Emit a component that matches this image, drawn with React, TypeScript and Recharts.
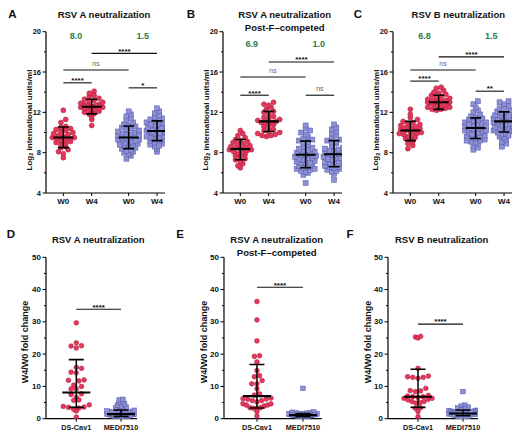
import React from 'react';
import { ScatterChart, Scatter, XAxis, YAxis, ReferenceLine, ReferenceDot } from 'recharts';

const FONT = '"Liberation Sans", Arial, Helvetica, sans-serif';
const RED = '#e5375b';
const RED_EDGE = '#a51d3b';
const BLUE = '#8d90d4';
const BLUE_EDGE = '#5558a9';
const GREEN = '#2e7b4d';

// ---------- tick labels / categories ----------
const topPositions = [1, 2, 3.3, 4.3];
const topLabels = ['W0', 'W4', 'W0', 'W4'];
const topKinds = ['red', 'red', 'blue', 'blue'];
const topYTicks = [4, 8, 12, 16, 20];
const topYMinor = [6, 10, 14, 18];
const botPositions = [1, 2];
const botLabels = ['DS-Cav1', 'MEDI7510'];
const botKinds = ['red', 'blue'];
const botYTicks = [0, 10, 20, 30, 40, 50];
const botYMinor = [5, 15, 25, 35, 45];

// ---------- Panel A: RSV A neutralization (log2 IU/ml) ----------
const aDsW0 = [7.5, 7.9, 8.1, 8.3, 8.5, 8.6, 8.8, 8.9, 9.0, 9.1, 9.2, 9.3, 9.4, 9.4, 9.5, 9.5, 9.6, 9.7, 9.8, 9.9, 10.0, 10.1, 10.2, 10.3, 10.4, 10.5, 10.6, 11.0, 11.3, 12.2];
const aDsW4 = [10.7, 11.3, 11.6, 11.8, 11.9, 12.0, 12.1, 12.2, 12.3, 12.3, 12.4, 12.5, 12.5, 12.6, 12.6, 12.7, 12.8, 12.8, 12.9, 13.0, 13.1, 13.2, 13.3, 13.4, 13.6, 13.7, 13.9, 14.1, 12.4, 12.7];
const aMeW0 = [7.4, 7.7, 7.9, 8.0, 8.1, 8.2, 8.3, 8.4, 8.5, 8.6, 8.7, 8.8, 8.9, 9.0, 9.0, 9.1, 9.2, 9.3, 9.3, 9.4, 9.5, 9.5, 9.6, 9.7, 9.8, 9.8, 9.9, 10.0, 10.1, 10.2, 10.3, 10.4, 10.5, 10.6, 10.7, 10.8, 11.0, 11.2, 11.4, 11.6, 11.8, 12.1, 9.2, 9.7, 8.8];
const aMeW4 = [8.1, 8.4, 8.6, 8.8, 8.9, 9.0, 9.1, 9.2, 9.3, 9.4, 9.5, 9.6, 9.7, 9.8, 9.9, 10.0, 10.0, 10.1, 10.1, 10.2, 10.3, 10.4, 10.5, 10.6, 10.7, 10.8, 10.9, 11.0, 11.1, 11.2, 11.3, 11.5, 11.7, 11.9, 12.1, 12.4, 9.6, 10.4, 10.8, 9.9, 11.4, 8.7, 10.2, 9.4, 11.0];
const aMedian = [9.5, 12.55, 9.5, 10.15];
const aLow = [8.5, 11.85, 8.4, 9.2];
const aHigh = [10.55, 13.3, 10.65, 11.15];

// ---------- Panel B: RSV A neutralization, Post-F-competed ----------
const bDsW0 = [6.5, 6.7, 6.9, 7.1, 7.3, 7.4, 7.6, 7.7, 7.8, 7.9, 8.0, 8.1, 8.2, 8.3, 8.3, 8.4, 8.5, 8.6, 8.7, 8.8, 8.9, 9.0, 9.1, 9.2, 9.3, 9.5, 9.7, 9.9, 10.2, 8.6];
const bDsW4 = [9.6, 9.7, 9.7, 9.8, 9.9, 10.0, 10.1, 10.3, 10.5, 10.6, 10.8, 10.9, 11.0, 11.0, 11.1, 11.2, 11.3, 11.4, 11.5, 11.6, 11.8, 12.0, 12.1, 12.3, 12.5, 12.7, 12.8, 13.0, 11.0, 10.2];
const bMeW0 = [5.0, 5.8, 6.0, 6.1, 6.2, 6.3, 6.4, 6.5, 6.6, 6.7, 6.8, 6.9, 7.0, 7.1, 7.2, 7.3, 7.4, 7.5, 7.6, 7.7, 7.8, 7.8, 7.9, 8.0, 8.1, 8.2, 8.3, 8.5, 8.6, 8.8, 9.0, 9.1, 9.2, 9.4, 9.6, 9.8, 10.0, 10.2, 10.4, 10.7, 6.4, 7.3, 8.4, 7.0, 9.3];
const bMeW4 = [5.3, 5.9, 6.1, 6.2, 6.3, 6.4, 6.5, 6.6, 6.7, 6.8, 6.9, 7.0, 7.1, 7.2, 7.3, 7.4, 7.5, 7.6, 7.7, 7.8, 7.8, 7.9, 8.0, 8.1, 8.2, 8.3, 8.4, 8.5, 8.7, 8.9, 9.0, 9.1, 9.3, 9.5, 9.7, 9.9, 10.1, 10.3, 10.5, 10.8, 6.6, 7.4, 8.2, 7.0, 9.2];
const bMedian = [8.35, 11.1, 7.8, 7.85];
const bLow = [7.3, 10.1, 6.5, 6.6];
const bHigh = [9.3, 12.1, 9.15, 9.2];

// ---------- Panel C: RSV B neutralization ----------
const cDsW0 = [8.4, 8.7, 8.9, 9.1, 9.3, 9.4, 9.5, 9.6, 9.7, 9.8, 9.9, 10.0, 10.1, 10.2, 10.2, 10.3, 10.4, 10.5, 10.6, 10.7, 10.8, 10.9, 11.0, 11.1, 11.3, 11.5, 11.8, 12.3, 9.9, 10.5];
const cDsW4 = [12.2, 12.3, 12.3, 12.4, 12.5, 12.6, 12.7, 12.7, 12.8, 12.9, 12.9, 13.0, 13.0, 13.1, 13.1, 13.2, 13.3, 13.4, 13.5, 13.6, 13.7, 13.8, 13.9, 14.0, 14.2, 14.4, 14.5, 12.5, 13.2, 12.8];
const cMeW0 = [8.3, 8.5, 8.7, 8.9, 9.0, 9.1, 9.2, 9.3, 9.4, 9.5, 9.6, 9.7, 9.8, 9.9, 10.0, 10.1, 10.2, 10.3, 10.4, 10.4, 10.5, 10.6, 10.7, 10.8, 10.9, 11.0, 11.1, 11.2, 11.3, 11.4, 11.5, 11.6, 11.8, 12.0, 12.2, 12.5, 12.8, 13.1, 9.5, 10.2, 10.8, 9.8, 11.0, 10.6, 9.2];
const cMeW4 = [8.6, 8.9, 9.1, 9.3, 9.5, 9.6, 9.8, 9.9, 10.0, 10.1, 10.2, 10.3, 10.4, 10.5, 10.6, 10.7, 10.8, 10.9, 11.0, 11.0, 11.1, 11.2, 11.3, 11.4, 11.5, 11.6, 11.7, 11.8, 11.9, 12.0, 12.1, 12.2, 12.4, 12.6, 12.8, 13.0, 13.1, 10.5, 11.2, 11.6, 9.7, 12.3, 10.9, 11.4, 10.2];
const cMedian = [10.2, 13.0, 10.45, 11.1];
const cLow = [9.2, 12.3, 9.4, 10.05];
const cHigh = [11.1, 13.7, 11.45, 12.05];

// ---------- Panel D: fold change, RSV A ----------
const dDs = [29.7, 23.5, 22.5, 22.6, 21.9, 15.9, 15.6, 14.4, 14.2, 11.7, 11.9, 12.0, 10.4, 10.0, 9.2, 9.2, 7.5, 7.7, 6.6, 5.7, 5.8, 3.8, 3.3, 3.5, 2.4, 3.6, 2.9, 4.3, 0.5];
const dMe = [0.2, 0.3, 0.4, 0.5, 0.5, 0.6, 0.7, 0.7, 0.8, 0.8, 0.9, 0.9, 1.0, 1.0, 1.1, 1.1, 1.2, 1.2, 1.3, 1.3, 1.4, 1.4, 1.5, 1.5, 1.6, 1.6, 1.7, 1.8, 1.9, 2.0, 2.1, 2.2, 2.3, 2.4, 2.6, 2.8, 3.0, 3.3, 3.6, 3.9, 4.2, 4.6, 5.0, 5.4, 5.8, 6.0, 1.0, 0.6, 1.2, 2.0];
const dMedian = [8.1, 1.4];
const dLow = [3.5, 0.7];
const dHigh = [18.3, 2.7];

// ---------- Panel E: fold change, RSV A Post-F-competed ----------
const eDs = [36.3, 30.6, 24.1, 19.3, 19.5, 17.6, 14.9, 13.0, 13.3, 11.8, 10.8, 10.8, 9.3, 7.3, 7.7, 5.6, 6.1, 6.2, 6.0, 6.4, 5.2, 5.6, 4.2, 4.6, 3.9, 4.2, 4.6, 3.2, 3.4, 3.4, 2.2, 3.2, 0.8];
const eMe = [9.4, 0.3, 0.4, 0.5, 0.5, 0.6, 0.6, 0.7, 0.7, 0.8, 0.8, 0.9, 0.9, 1.0, 1.0, 1.0, 1.1, 1.1, 1.1, 1.2, 1.2, 1.2, 1.3, 1.3, 1.4, 1.4, 1.5, 1.5, 1.6, 1.6, 1.7, 1.8, 1.9, 2.0, 2.1, 0.9, 1.0, 1.3, 0.7, 1.2];
const eMedian = [7.0, 1.1];
const eLow = [3.3, 0.6];
const eHigh = [16.8, 1.6];

// ---------- Panel F: fold change, RSV B ----------
const fDs = [25.3, 25.0, 25.5, 15.6, 12.5, 12.8, 13.0, 12.8, 13.2, 9.4, 8.4, 8.7, 8.6, 6.8, 6.3, 6.6, 6.0, 6.3, 6.8, 5.8, 5.3, 5.0, 5.3, 4.8, 3.4, 3.2, 2.2, 0.6, 7.2, 7.0];
const fMe = [8.4, 4.2, 3.9, 3.6, 3.3, 3.0, 2.8, 2.6, 2.5, 2.4, 2.3, 2.2, 2.1, 2.0, 1.9, 1.8, 1.8, 1.7, 1.7, 1.6, 1.6, 1.5, 1.5, 1.4, 1.4, 1.3, 1.2, 1.1, 1.0, 0.9, 0.8, 0.7, 0.6, 0.5, 0.4, 0.3, 0.2, 1.6, 1.2, 2.0];
const fMedian = [6.8, 1.6];
const fLow = [3.5, 0.9];
const fHigh = [15.3, 2.7];

// ---------- significance brackets & fold-increase notes ----------
const aBrackets = [
  { x1: 1, x2: 2, y: 14.93, text: '****' },
  { x1: 1, x2: 3.3, y: 16.2, text: 'ns' },
  { x1: 2, x2: 4.3, y: 17.85, text: '****' },
  { x1: 3.3, x2: 4.3, y: 14.43, text: '*' },
];
const bBrackets = [
  { x1: 1, x2: 2, y: 13.7, text: '****' },
  { x1: 1, x2: 3.3, y: 15.5, text: 'ns' },
  { x1: 2, x2: 4.3, y: 17.0, text: '****' },
  { x1: 3.3, x2: 4.3, y: 13.7, text: 'ns' },
];
const cBrackets = [
  { x1: 1, x2: 2, y: 15.1, text: '****' },
  { x1: 1, x2: 3.3, y: 16.2, text: 'ns' },
  { x1: 2, x2: 4.3, y: 17.5, text: '****' },
  { x1: 3.3, x2: 4.3, y: 14.1, text: '**' },
];
const dBrackets = [{ x1: 1, x2: 2, y: 33.9, text: '****' }];
const eBrackets = [{ x1: 1, x2: 2, y: 40.7, text: '****' }];
const fBrackets = [{ x1: 1, x2: 2, y: 29.3, text: '****' }];

const aNotes = [{ x: 1.45, y: 19.57, text: '8.0' }, { x: 3.8, y: 19.57, text: '1.5' }];
const bNotes = [{ x: 1.4, y: 18.75, text: '6.9' }, { x: 3.76, y: 18.75, text: '1.0' }];
const cNotes = [{ x: 1.5, y: 19.6, text: '6.8' }, { x: 3.85, y: 19.6, text: '1.5' }];

// ---------- layout helpers ----------
const YW = 46;
const XH = 24;

// Prism-like row swarm: values binned into rows, each row spread symmetrically
function swarm(values: number[], center: number, pxX: number, pxY: number, d: number, rowH: number, maxW: number) {
  const rows = new Map<number, number[]>();
  values.forEach((v, i) => {
    const r = Math.round((v * pxY) / rowH);
    if (!rows.has(r)) rows.set(r, []);
    rows.get(r)!.push(i);
  });
  const out: { x: number; y: number }[] = new Array(values.length);
  rows.forEach((idxs) => {
    idxs.sort((a, b) => values[a] - values[b]);
    const n = idxs.length;
    const sp = n > 1 ? Math.min(d, maxW / (n - 1)) : 0;
    const slots: number[] = [];
    for (let k = 0; k < n; k++) slots.push((k - (n - 1) / 2) * sp);
    slots.sort((a, b) => Math.abs(a) - Math.abs(b) || a - b);
    idxs.forEach((i, k) => {
      out[i] = { x: center + slots[k] / pxX, y: values[i] };
    });
  });
  return out;
}

const RedDot = (r: number) => (p: any) => (
  <circle cx={p.cx} cy={p.cy} r={r} fill={RED} stroke={RED_EDGE} strokeWidth={0.5} />
);
const BlueSq = (s: number) => (p: any) => (
  <rect x={p.cx - s / 2} y={p.cy - s / 2} width={s} height={s} fill={BLUE} stroke={BLUE_EDGE} strokeWidth={0.5} />
);
// median line with error bar (whiskers derived from the y scale factor)
const SummaryShape = (p: any) => {
  const { w, cap, up, down } = p.payload;
  const cx = p.cx;
  const cy = p.cy;
  return (
    <g stroke="#000" fill="none">
      <line x1={cx} x2={cx} y1={cy - up} y2={cy + down} strokeWidth={1.5} />
      <line x1={cx - cap / 2} x2={cx + cap / 2} y1={cy - up} y2={cy - up} strokeWidth={1.6} />
      <line x1={cx - cap / 2} x2={cx + cap / 2} y1={cy + down} y2={cy + down} strokeWidth={1.6} />
      <line x1={cx - w / 2} x2={cx + w / 2} y1={cy} y2={cy} strokeWidth={2.1} />
    </g>
  );
};

type Bracket = { x1: number; x2: number; y: number; text: string };
type Note = { x: number; y: number; text: string };

function Panel(cfg: any) {
  const width = YW + cfg.plotW + 4;
  const height = cfg.plotTop + cfg.plotH + XH;
  const pxX = cfg.plotW / (cfg.xDomain[1] - cfg.xDomain[0]);
  const pxY = cfg.plotH / (cfg.yDomain[1] - cfg.yDomain[0]);
  const sets = cfg.groups.map((g: number[], gi: number) => {
    const s = cfg.kinds[gi] === 'red' ? cfg.redSwarm : cfg.blueSwarm;
    return swarm(g, cfg.positions[gi], pxX, pxY, s.d, s.rowH, s.maxW);
  });
  const summary = cfg.positions.map((x: number, i: number) => ({
    x,
    y: cfg.medians[i],
    up: (cfg.highs[i] - cfg.medians[i]) * pxY,
    down: (cfg.medians[i] - cfg.lows[i]) * pxY,
    w: cfg.medW,
    cap: cfg.capW,
  }));
  const allTicks = [...cfg.yTicks, ...cfg.yMinor].sort((a: number, b: number) => a - b);

  const yTick = (t: any) => {
    const v = t.payload.value;
    const major = cfg.yTicks.includes(v);
    return (
      <g>
        <line x1={t.x} x2={t.x - (major ? 3.5 : 2)} y1={t.y} y2={t.y} stroke="#000" strokeWidth={1} />
        {major && (
          <text x={t.x - 5} y={t.y} dominantBaseline="central" textAnchor="end" fontSize={cfg.yFs} fontWeight={700} fontFamily={FONT} fill="#111">
            {v}
          </text>
        )}
      </g>
    );
  };
  const xTick = (t: any) => {
    const idx = cfg.positions.indexOf(t.payload.value);
    return (
      <g>
        <line x1={t.x} x2={t.x} y1={t.y} y2={t.y + 3} stroke="#000" strokeWidth={1} />
        <text x={t.x} y={t.y + cfg.xDy} dominantBaseline="central" textAnchor="middle" fontSize={cfg.xFs} fontWeight={700} fontFamily={FONT} fill="#111">
          {cfg.labels[idx]}
        </text>
      </g>
    );
  };

  return (
    <div style={{ position: 'absolute', left: cfg.left, top: cfg.top }}>
      <ScatterChart width={width} height={height} margin={{ top: cfg.plotTop, right: 4, bottom: 0, left: 0 }}>
        <XAxis
          type="number"
          dataKey="x"
          domain={cfg.xDomain}
          allowDataOverflow
          ticks={cfg.positions}
          interval={0}
          height={XH}
          tickSize={0}
          tickMargin={0}
          tickLine={false}
          axisLine={{ stroke: '#000', strokeWidth: 1.2 }}
          tick={xTick}
        />
        <YAxis
          type="number"
          dataKey="y"
          domain={cfg.yDomain}
          allowDataOverflow
          ticks={allTicks}
          interval={0}
          width={YW}
          tickSize={0}
          tickMargin={0}
          tickLine={false}
          axisLine={{ stroke: '#000', strokeWidth: 1.2 }}
          tick={yTick}
        />
        {sets.map((s: any, gi: number) => (
          <Scatter
            key={'g' + gi}
            data={s}
            isAnimationActive={false}
            shape={cfg.kinds[gi] === 'red' ? RedDot(cfg.redSwarm.r) : BlueSq(cfg.blueSwarm.r * 2)}
          />
        ))}
        <Scatter data={summary} isAnimationActive={false} shape={SummaryShape} />
        {cfg.brackets.map((b: Bracket, i: number) => (
          <ReferenceLine
            key={'b' + i}
            segment={[
              { x: b.x1, y: b.y },
              { x: b.x2, y: b.y },
            ]}
            stroke="#111"
            strokeWidth={1.1}
            ifOverflow="visible"
          />
        ))}
        {cfg.brackets.map((b: Bracket, i: number) => (
          <ReferenceDot
            key={'bl' + i}
            x={(b.x1 + b.x2) / 2}
            y={b.y}
            r={1}
            ifOverflow="visible"
            shape={(p: any) =>
              b.text === 'ns' ? (
                <text x={p.cx} y={p.cy - 4.5} textAnchor="middle" fontSize={7} fontFamily={FONT} fill="#666">
                  ns
                </text>
              ) : (
                <text x={p.cx} y={p.cy + 0.3} textAnchor="middle" fontSize={8} fontWeight={700} fontFamily={FONT} fill="#111">
                  {b.text}
                </text>
              )
            }
          />
        ))}
        {cfg.notes.map((n: Note, i: number) => (
          <ReferenceDot
            key={'n' + i}
            x={n.x}
            y={n.y}
            r={1}
            ifOverflow="visible"
            shape={(p: any) => (
              <text x={p.cx} y={p.cy} dominantBaseline="central" textAnchor="middle" fontSize={9} fontWeight={700} fontFamily={FONT} fill={GREEN}>
                {n.text}
              </text>
            )}
          />
        ))}
      </ScatterChart>
    </div>
  );
}

const topBase = {
  top: 0,
  plotTop: 31.7,
  plotW: 119,
  plotH: 161.3,
  xDomain: [0.39, 4.58],
  yDomain: [4, 20],
  positions: topPositions,
  labels: topLabels,
  kinds: topKinds,
  medW: 20,
  capW: 11,
  redSwarm: { r: 2.5, d: 4.8, rowH: 4.3, maxW: 22 },
  blueSwarm: { r: 2.5, d: 4.5, rowH: 4.2, maxW: 21 },
  yTicks: topYTicks,
  yMinor: topYMinor,
  yFs: 7.5,
  xFs: 8,
  xDy: 8.5,
};
const botBase = {
  top: 220,
  plotTop: 37.3,
  plotH: 161.4,
  yDomain: [0, 50],
  positions: botPositions,
  labels: botLabels,
  kinds: botKinds,
  medW: 28,
  capW: 15,
  redSwarm: { r: 2.4, d: 5.2, rowH: 6, maxW: 28 },
  blueSwarm: { r: 2.3, d: 3.6, rowH: 3.4, maxW: 28 },
  yTicks: botYTicks,
  yMinor: botYMinor,
  yFs: 8,
  xFs: 7.3,
  xDy: 8.8,
  notes: [] as Note[],
};

const Title = ({ x, y, lines, fs }: { x: number; y: number; lines: string[]; fs: number }) => (
  <text x={x} y={y} textAnchor="middle" fontSize={fs} fontWeight={700} fontFamily={FONT} fill="#111" dominantBaseline="central">
    {lines.map((l, i) => (
      <tspan key={i} x={x} dy={i === 0 ? 0 : 12.5}>
        {l}
      </tspan>
    ))}
  </text>
);

const Letter = ({ x, y, t }: { x: number; y: number; t: string }) => (
  <text x={x} y={y} textAnchor="middle" dominantBaseline="central" fontSize={11.5} fontWeight={700} fontFamily={FONT} fill="#111">
    {t}
  </text>
);

const LogTitle = ({ x, y }: { x: number; y: number }) => (
  <text x={x} y={y} transform={`rotate(-90 ${x} ${y})`} textAnchor="middle" dominantBaseline="central" fontSize={8} fontWeight={700} fontFamily={FONT} fill="#111">
    Log<tspan fontSize={5.5} dy={2}>2</tspan>
    <tspan dy={-2}> international units/ml</tspan>
  </text>
);

const FoldTitle = ({ x, y }: { x: number; y: number }) => (
  <text x={x} y={y} transform={`rotate(-90 ${x} ${y})`} textAnchor="middle" dominantBaseline="central" fontSize={9} fontWeight={700} fontFamily={FONT} fill="#111">
    W4/W0 fold change
  </text>
);

export default function App() {
  return (
    <div style={{ position: 'absolute', left: 0, top: 0, width: 525, height: 441, background: '#fff', fontFamily: FONT, overflow: 'hidden' }}>
      <Panel {...topBase} left={0} groups={[aDsW0, aDsW4, aMeW0, aMeW4]} medians={aMedian} lows={aLow} highs={aHigh} brackets={aBrackets} notes={aNotes} />
      <Panel {...topBase} left={176.7} groups={[bDsW0, bDsW4, bMeW0, bMeW4]} medians={bMedian} lows={bLow} highs={bHigh} brackets={bBrackets} notes={bNotes} />
      <Panel {...topBase} left={346.7} groups={[cDsW0, cDsW4, cMeW0, cMeW4]} medians={cMedian} lows={cLow} highs={cHigh} brackets={cBrackets} notes={cNotes} />
      <Panel {...botBase} left={-0.3} plotW={91} xDomain={[0.322, 2.358]} groups={[dDs, dMe]} medians={dMedian} lows={dLow} highs={dHigh} brackets={dBrackets} />
      <Panel {...botBase} left={178} plotW={97.7} xDomain={[0.283, 2.407]} groups={[eDs, eMe]} medians={eMedian} lows={eLow} highs={eHigh} brackets={eBrackets} />
      <Panel {...botBase} left={342} plotW={90} xDomain={[0.333, 2.333]} groups={[fDs, fMe]} medians={fMedian} lows={fLow} highs={fHigh} brackets={fBrackets} />
      <svg width={525} height={441} style={{ position: 'absolute', left: 0, top: 0, pointerEvents: 'none' }}>
        <Letter x={12.5} y={14} t="A" />
        <Letter x={191} y={14} t="B" />
        <Letter x={358} y={14} t="C" />
        <Letter x={11} y={234} t="D" />
        <Letter x={180} y={234} t="E" />
        <Letter x={350} y={234} t="F" />
        <Title x={104} y={14} fs={9.5} lines={['RSV A neutralization']} />
        <Title x={284.7} y={14} fs={9.5} lines={['RSV A neutralization', 'Post-F\u2013competed']} />
        <Title x={458.3} y={14} fs={9.5} lines={['RSV B neutralization']} />
        <Title x={98.3} y={239.3} fs={9.5} lines={['RSV A neutralization']} />
        <Title x={276.7} y={239} fs={9.5} lines={['RSV A neutralization', 'Post-F\u2013competed']} />
        <Title x={441.7} y={239} fs={9.5} lines={['RSV B neutralization']} />
        <LogTitle x={29} y={120} />
        <LogTitle x={205.7} y={120} />
        <LogTitle x={375.7} y={120} />
        <FoldTitle x={24.5} y={342} />
        <FoldTitle x={204} y={342} />
        <FoldTitle x={368} y={342} />
      </svg>
    </div>
  );
}
